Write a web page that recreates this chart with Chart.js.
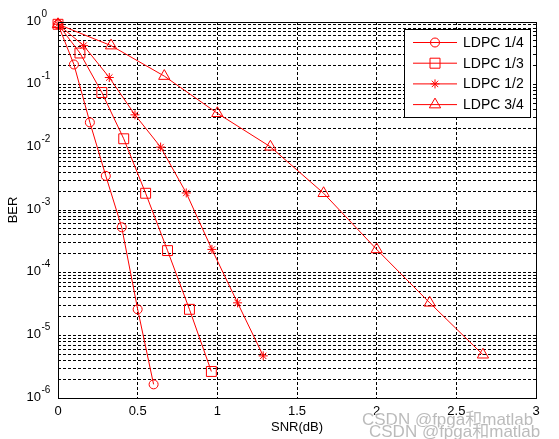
<!DOCTYPE html>
<html>
<head>
<meta charset="utf-8">
<script src="https://cdn.jsdelivr.net/npm/chart.js@4.4.1/dist/chart.umd.min.js"></script>
<style>
  html, body { margin: 0; padding: 0; background: #fff; }
  canvas { display: block; }
</style>
</head>
<body>
<canvas id="berChart" width="559" height="439"></canvas>
<script>
// valores
const seriesNames = ['LDPC 1/4', 'LDPC 1/3', 'LDPC 1/2', 'LDPC 3/4'];
const seriesMarkers = ['circle', 'rect', 'star', 'triangle'];

const snr14 = [0, 0.1, 0.2, 0.3, 0.4, 0.5, 0.6];
const ber14 = [0.92, 0.21, 0.025, 0.0035, 5.3e-4, 2.6e-5, 1.65e-6];

const snr13 = [0, 0.1375, 0.275, 0.4125, 0.55, 0.6875, 0.825, 0.9625];
const ber13 = [0.92, 0.32, 0.075, 0.0137, 1.85e-3, 2.25e-4, 2.6e-5, 2.65e-6];

const snr12 = [0, 0.161, 0.322, 0.483, 0.644, 0.805, 0.966, 1.127, 1.288];
const ber12 = [0.92, 0.42, 0.13, 0.033, 0.0101, 1.87e-3, 2.35e-4, 3.3e-5, 4.7e-6];

const snr34 = [0, 0.333, 0.667, 1.0, 1.333, 1.667, 2.0, 2.333, 2.667];
const ber34 = [0.92, 0.42, 0.137, 0.035, 0.0102, 1.85e-3, 2.35e-4, 3.3e-5, 4.9e-6];

const xTicks = [0, 0.5, 1, 1.5, 2, 2.5, 3];
const yTickExps = [0, -1, -2, -3, -4, -5, -6];

const allSnr = [snr14, snr13, snr12, snr34];
const allBer = [ber14, ber13, ber12, ber34];

function toPoints(xs, ys) {
    return xs.map(function(x, i) { return { x: x, y: ys[i] }; });
}

const markerRadius = { circle: 4.5, rect: 7, star: 4.5, triangle: 6.5 };

const datasets = seriesNames.map(function(name, i) {
    const style = seriesMarkers[i];
    return {
        label: name,
        data: toPoints(allSnr[i], allBer[i]),
        borderColor: '#ff0000',
        backgroundColor: 'rgba(0,0,0,0)',
        borderWidth: 1,
        pointStyle: style,
        pointRadius: markerRadius[style],
        pointBorderColor: '#ff0000',
        pointBackgroundColor: 'rgba(0,0,0,0)',
        pointBorderWidth: 1,
        tension: 0,
        clip: false
    };
});

// grade de todos os valores 1..9 x 10^k
function logGridValues() {
    const vals = [];
    for (let e = -6; e <= 0; e++) {
        for (let m = 1; m <= 9; m++) {
            const v = m * Math.pow(10, e);
            if (v <= 1.0000001) vals.push({ value: v, major: m === 1 });
        }
    }
    return vals;
}

const fontFamily = '"Liberation Sans", Arial, sans-serif';

const decorPlugin = {
    id: 'decor',
    afterDraw: function(chart) {
        const ctx = chart.ctx;
        const area = chart.chartArea;
        const yScale = chart.scales.y;
        ctx.save();

        // caixa do eixo
        ctx.setLineDash([]);
        ctx.strokeStyle = '#000';
        ctx.lineWidth = 1;
        ctx.strokeRect(Math.round(area.left) + 0.5, Math.round(area.top) + 0.5,
            Math.round(area.right - area.left), Math.round(area.bottom - area.top));

        // rotulos 10^k
        ctx.fillStyle = '#000';
        yTickExps.forEach(function(e) {
            const py = yScale.getPixelForValue(Math.pow(10, e));
            ctx.font = '13px ' + fontFamily;
            ctx.textAlign = 'right';
            ctx.textBaseline = 'middle';
            ctx.fillText('10', 41, py - 1);
            ctx.font = '10px ' + fontFamily;
            ctx.textAlign = 'left';
            ctx.fillText(String(e), 41.5, py - 8);
        });

        // legenda
        const lx = 404, ly = 29, lw = 126, lh = 88;
        ctx.fillStyle = '#fff';
        ctx.fillRect(lx, ly, lw, lh);
        ctx.strokeStyle = '#000';
        ctx.strokeRect(lx + 0.5, ly + 0.5, lw, lh);
        chart.data.datasets.forEach(function(ds, i) {
            const cy = ly + 13.5 + i * 20.7;
            ctx.strokeStyle = '#ff0000';
            ctx.lineWidth = 1;
            ctx.beginPath();
            ctx.moveTo(413, cy);
            ctx.lineTo(457, cy);
            ctx.stroke();
            drawMarker(ctx, ds.pointStyle, 435, cy);
            ctx.fillStyle = '#000';
            ctx.font = '14px ' + fontFamily;
            ctx.textAlign = 'left';
            ctx.textBaseline = 'middle';
            ctx.fillText(ds.label, 463, cy + 0.5);
        });

        // marca d'agua
        ctx.font = '17px "Liberation Sans", "Noto Sans CJK SC", sans-serif';
        ctx.textAlign = 'left';
        ctx.textBaseline = 'alphabetic';
        ctx.lineWidth = 2;
        ctx.strokeStyle = 'rgba(255,255,255,0.8)';
        ctx.fillStyle = 'rgba(150,150,150,0.65)';
        ctx.strokeText('CSDN @fpga和matlab', 362, 425);
        ctx.fillText('CSDN @fpga和matlab', 362, 425);
        ctx.strokeText('CSDN @fpga和matlab', 369, 437);
        ctx.fillText('CSDN @fpga和matlab', 369, 437);

        ctx.restore();
    }
};

function drawMarker(ctx, style, x, y) {
    ctx.save();
    ctx.strokeStyle = '#ff0000';
    ctx.lineWidth = 1;
    ctx.beginPath();
    if (style === 'circle') {
        ctx.arc(x, y, 4.5, 0, Math.PI * 2);
    } else if (style === 'rect') {
        ctx.rect(x - 5, y - 5, 10, 10);
    } else if (style === 'star') {
        const r = 4.5;
        for (let k = 0; k < 4; k++) {
            const a = k * Math.PI / 4;
            ctx.moveTo(x - Math.sin(a) * r, y - Math.cos(a) * r);
            ctx.lineTo(x + Math.sin(a) * r, y + Math.cos(a) * r);
        }
    } else if (style === 'triangle') {
        const r = 6.5;
        ctx.moveTo(x, y - r);
        ctx.lineTo(x + Math.sin(Math.PI * 2 / 3) * r, y + r / 2);
        ctx.lineTo(x - Math.sin(Math.PI * 2 / 3) * r, y + r / 2);
        ctx.closePath();
    }
    ctx.stroke();
    ctx.restore();
}

document.addEventListener('DOMContentLoaded', function() {
    const ctx = document.getElementById('berChart').getContext('2d');
    new Chart(ctx, {
        type: 'line',
        data: { datasets: datasets },
        options: {
            responsive: false,
            animation: false,
            devicePixelRatio: 1,
            layout: { padding: { top: 22, right: 23, left: 0, bottom: 0 } },
            plugins: {
                legend: { display: false },
                tooltip: { enabled: false }
            },
            scales: {
                x: {
                    type: 'linear',
                    min: 0,
                    max: 3,
                    afterBuildTicks: function(scale) {
                        scale.ticks = xTicks.map(function(v) { return { value: v }; });
                    },
                    afterFit: function(scale) { scale.height = 41; },
                    ticks: {
                        color: '#000',
                        font: { size: 13, family: fontFamily },
                        padding: 6,
                        maxRotation: 0,
                        autoSkip: false,
                        callback: function(v) { return String(v); }
                    },
                    grid: { color: '#000', lineWidth: 1, drawTicks: false },
                    border: { display: false, dash: [3, 2] },
                    title: {
                        display: true,
                        text: 'SNR(dB)',
                        color: '#000',
                        font: { size: 13, family: fontFamily },
                        padding: { top: 0, bottom: 4 }
                    }
                },
                y: {
                    type: 'logarithmic',
                    min: 1e-6,
                    max: 1,
                    afterBuildTicks: function(scale) {
                        scale.ticks = logGridValues();
                    },
                    afterFit: function(scale) { scale.width = 58; },
                    ticks: { display: false },
                    grid: { color: '#000', lineWidth: 1, drawTicks: false },
                    border: { display: false, dash: [3, 2] },
                    title: {
                        display: true,
                        text: 'BER',
                        color: '#000',
                        font: { size: 13, family: fontFamily },
                        padding: { top: 6, bottom: 0 }
                    }
                }
            }
        },
        plugins: [decorPlugin]
    });
});
</script>
</body>
</html>
